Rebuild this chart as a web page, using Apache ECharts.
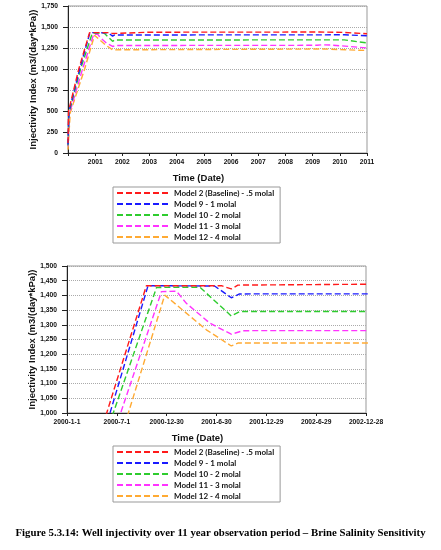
<!DOCTYPE html>
<html>
<head>
<meta charset="utf-8">
<script src="https://cdn.jsdelivr.net/npm/echarts@6/dist/echarts.min.js"></script>
<style>
  html, body { margin: 0; padding: 0; background: #fff; }
  #main { width: 441px; height: 550px; }
</style>
</head>
<body>
<div id="main"></div>
<script>
// series: [date, injectivity index]
const model2 = [['2000-01-01',120],['2000-01-09',500],['2000-05-25',1000],['2000-10-17',1433],['2001-07-18',1433],
  ['2001-08-23',1422],['2001-09-16',1435],['2002-12-28',1438],['2009-04-01',1440],['2010-02-01',1436],['2011-01-01',1420]];
const model9 = [['2000-01-01',100],['2000-01-12',490],['2000-06-06',1000],['2000-10-23',1433],['2001-06-23',1432],
  ['2001-08-23',1392],['2001-09-22',1405],['2010-03-01',1407],['2011-01-01',1395]];
const model10 = [['2000-01-01',90],['2000-01-15',480],['2000-06-18',1000],['2000-11-23',1427],['2001-04-30',1428],
  ['2001-08-23',1330],['2001-09-22',1345],['2010-03-01',1347],['2011-01-01',1310]];
const model11 = [['2000-01-01',80],['2000-01-20',470],['2000-07-15',1000],['2000-12-11',1413],['2001-02-04',1414],
  ['2001-03-12',1373],['2001-06-05',1306],['2001-08-23',1268],['2001-10-05',1280],['2009-03-01',1282],
  ['2009-05-01',1288],['2009-09-01',1286],['2011-01-01',1250]];
const model12 = [['2000-01-01',40],['2000-01-31',480],['2000-08-12',1000],['2000-12-23',1401],['2001-05-24',1283],
  ['2001-08-23',1228],['2001-09-16',1238],['2009-06-01',1238],['2011-01-01',1220]];

const seriesNames = ['Model 2 (Baseline) - .5 molal','Model 9 - 1 molal','Model 10 - 2 molal','Model 11 - 3 molal','Model 12 - 4 molal'];
const seriesData = [model2, model9, model10, model11, model12];
const colors = ['#ff1a1a','#1a1aff','#2ecc2e','#ff33ff','#ffaa33'];

const yTop = { min: 0, max: 1750, step: 250 };
const yBottom = { min: 1000, max: 1500, step: 50 };
const bottomDayStep = 182;
const bottomDayMax = 1092;

const caption = 'Figure 5.3.14: Well injectivity over 11 year observation period \u2013 Brine Salinity Sensitivity';

function parts(s){ return s.split('-').map(Number); }
// days since 2000-01-01
function dayNum(s){
    const p = parts(s);
    return (Date.UTC(p[0],p[1]-1,p[2]) - Date.UTC(2000,0,1)) / 86400000;
}
// decimal year
function yearNum(s){
    const p = parts(s);
    const t = Date.UTC(p[0],p[1]-1,p[2]), a = Date.UTC(p[0],0,1), b = Date.UTC(p[0]+1,0,1);
    return p[0] + (t-a)/(b-a);
}
function dayLabel(v){
    const d = new Date(Date.UTC(2000,0,1) + v*86400000);
    return d.getUTCFullYear() + '-' + (d.getUTCMonth()+1) + '-' + d.getUTCDate();
}

const lblFont = { fontFamily: 'Liberation Sans', fontWeight: 'bold', fontSize: 6.7, color: '#111' };
const nameFont = { fontFamily: 'Liberation Sans', fontWeight: 'bold', fontSize: 9.5, color: '#111' };
const yName = 'Injectivity Index (m3/(day*kPa))';

function xAxisBase(idx){
    return {
        gridIndex: idx, type: 'value',
        name: 'Time (Date)', nameLocation: 'middle', nameGap: 20, nameMoveOverlap: false,
        nameTextStyle: Object.assign({ padding: [0, 38, 0, 0] }, nameFont),
        axisLine: { lineStyle: { color: '#222', width: 1 } },
        axisTick: { show: true, length: 3, lineStyle: { color: '#222' } },
        splitLine: { show: false },
        axisLabel: Object.assign({ margin: 6 }, lblFont)
    };
}
function yAxisBase(idx, r){
    return {
        gridIndex: idx, type: 'value', min: r.min, max: r.max, interval: r.step,
        name: yName, nameLocation: 'middle', nameGap: 30, nameMoveOverlap: false, nameTextStyle: nameFont,
        axisLine: { show: true, lineStyle: { color: '#222', width: 1 } },
        axisTick: { show: true, length: 5, lineStyle: { color: '#222' } },
        splitLine: { show: true, lineStyle: { color: '#aaa', type: 'dotted', width: 1 } },
        axisLabel: Object.assign({ margin: 10, formatter: v => v.toLocaleString('en-US') }, lblFont)
    };
}

const series = [];
seriesData.forEach((d, i) => {
    const common = {
        name: seriesNames[i], type: 'line', symbol: 'none', clip: true,
        lineStyle: { color: colors[i], width: 1.4, type: [6, 3] },
        itemStyle: { color: colors[i] },
        z: 10 - i
    };
    series.push(Object.assign({}, common, { xAxisIndex: 0, yAxisIndex: 0, data: d.map(p => [yearNum(p[0]), p[1]]) }));
    series.push(Object.assign({}, common, { xAxisIndex: 1, yAxisIndex: 1, data: d.map(p => [dayNum(p[0]), p[1]]) }));
});

function legendAt(top){
    return {
        data: seriesNames, orient: 'vertical', left: 113, top: top,
        itemWidth: 54, itemHeight: 6, itemGap: 3,
        itemStyle: { opacity: 0 },
        lineStyle: { opacity: 1 },
        borderColor: '#999', borderWidth: 1, padding: [2, 6, 2, 3],
        textStyle: { fontFamily: 'Lato', fontWeight: 'bold', fontSize: 8, color: '#111', padding: [0, 0, 0, -2] },
        selectedMode: false
    };
}

const chart = echarts.init(document.getElementById('main'), null, { renderer: 'canvas' });
chart.setOption({
    animation: false,
    backgroundColor: '#fff',
    title: {
        text: caption, left: 'center', top: 523,
        textStyle: { fontFamily: 'Liberation Serif', fontWeight: 'bold', fontSize: 10.8, color: '#000' }
    },
    grid: [
        { left: 68, top: 6, width: 299, height: 147, show: true, borderColor: '#999', borderWidth: 1 },
        { left: 67, top: 266, width: 299, height: 147, show: true, borderColor: '#999', borderWidth: 1 }
    ],
    xAxis: [
        Object.assign(xAxisBase(0), {
            min: 2000, max: 2011, interval: 1,
            axisLabel: Object.assign({ margin: 6, formatter: v => v === 2000 ? '' : String(v) }, lblFont)
        }),
        Object.assign(xAxisBase(1), {
            min: 0, max: bottomDayMax, interval: bottomDayStep,
            axisLabel: Object.assign({ margin: 6, formatter: dayLabel }, lblFont)
        })
    ],
    yAxis: [ yAxisBase(0, yTop), yAxisBase(1, yBottom) ],
    legend: [ legendAt(187), legendAt(446) ],
    series: series
});
</script>
</body>
</html>
